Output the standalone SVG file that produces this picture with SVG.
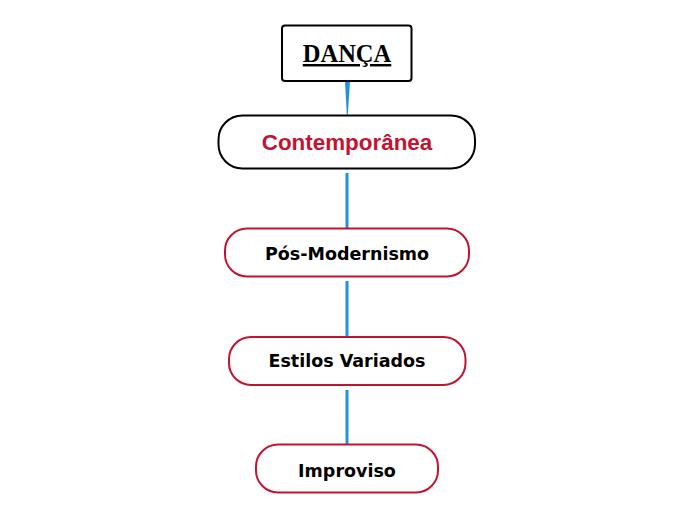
<svg xmlns="http://www.w3.org/2000/svg" width="696" height="520" viewBox="0 0 696 520">
<style>
.box{fill:#fff;stroke-width:2}
.blk{stroke:#000}
.red{stroke:#c41230}
.lbl{font-family:"DejaVu Sans",Verdana,sans-serif;font-weight:bold;font-size:17.5px;fill:#000;text-anchor:middle}
.conn{stroke:#1b93e0;stroke-width:3;fill:none}
</style>
<rect width="696" height="520" fill="#fff"/>
<g id="connectors">
<polygon points="345,81 350,81 347.8,115 346.8,115" fill="#1b93e0"/>
<line class="conn" x1="347" y1="173" x2="347" y2="228"/>
<line class="conn" x1="347" y1="281" x2="347" y2="336"/>
<line class="conn" x1="347" y1="390" x2="347" y2="444"/>
</g>
<g id="danca">
<rect class="box blk" x="282" y="25.5" width="129.5" height="55.5" rx="3"/>
<text x="347" y="62" font-family="'Liberation Serif','Times New Roman',serif" font-weight="bold" font-size="24.5" text-anchor="middle" text-decoration="underline">DANÇA</text>
</g>
<g id="contemporanea">
<rect class="box blk" x="218.5" y="115.5" width="256.5" height="53" rx="24"/>
<text x="347" y="149.5" font-family="'Liberation Sans',Arial,sans-serif" font-weight="bold" font-size="22.4" fill="#c41230" text-anchor="middle">Contemporânea</text>
</g>
<g id="posmodernismo">
<rect class="box red" x="225" y="228.5" width="244" height="48" rx="22"/>
<text class="lbl" x="347" y="259.5">Pós-Modernismo</text>
</g>
<g id="estilos">
<rect class="box red" x="229" y="337" width="236.5" height="48" rx="22"/>
<text class="lbl" x="347" y="367">Estilos Variados</text>
</g>
<g id="improviso">
<rect class="box red" x="256" y="444.5" width="182" height="48" rx="22"/>
<text class="lbl" x="347" y="477">Improviso</text>
</g>
</svg>
